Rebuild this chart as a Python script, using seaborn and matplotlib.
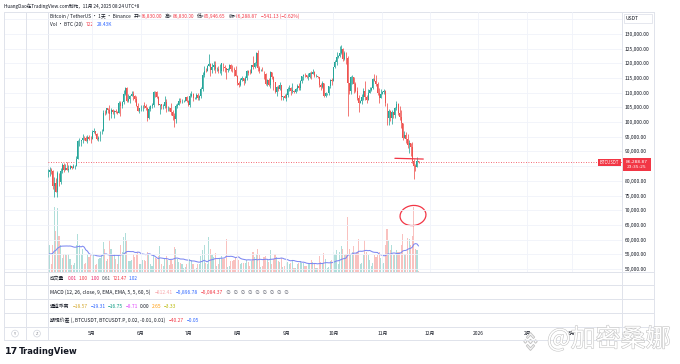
import numpy as np
import pandas as pd
import matplotlib
matplotlib.use("Agg")
import matplotlib.pyplot as plt
import matplotlib.dates as mdates
import matplotlib.patheffects as pe
from matplotlib.patches import Rectangle, Ellipse, Polygon, Circle
import seaborn as sns

# ---------------- data (prices in thousand USDT, volumes in thousand BTC) ----------------
first_day = "2025-04-02"
last_day = "2025-11-24"
first_open_k = 85.17

close_k = [
    # Apr 2-30
    82.5, 83.1, 83.8, 83.5, 78.4, 79.2, 76.3, 82.6, 79.6, 83.4, 85.3, 83.7, 84.5, 83.6, 84.0,
    84.9, 84.4, 85.0, 85.2, 87.5, 93.4, 93.7, 93.9, 94.7, 94.6, 93.7, 95.0, 94.3, 94.2,
    # May
    96.5, 96.9, 95.9, 94.3, 94.7, 96.8, 97.0, 103.2, 102.9, 104.6, 104.1, 102.8, 104.1, 103.5,
    103.7, 103.5, 103.1, 106.4, 105.6, 106.8, 109.6, 111.7, 107.3, 107.8, 109.0, 109.4, 108.9,
    107.8, 105.6, 103.9, 104.6,
    # Jun
    105.7, 105.8, 105.4, 104.7, 101.5, 104.3, 105.6, 105.7, 110.3, 110.2, 108.6, 105.9, 106.1,
    105.4, 105.6, 106.8, 104.6, 104.9, 104.6, 103.3, 102.1, 100.9, 105.4, 105.9, 107.3, 106.9,
    107.1, 107.3, 108.4, 107.1,
    # Jul
    105.7, 108.8, 109.6, 108.0, 108.2, 109.2, 108.3, 108.9, 111.3, 115.9, 117.5, 117.4, 119.1,
    119.8, 117.7, 118.8, 119.3, 117.9, 117.9, 117.3, 117.4, 119.9, 118.8, 118.3, 117.6, 117.9,
    119.4, 118.1, 117.9, 117.8, 115.8,
    # Aug
    113.3, 112.6, 114.2, 115.1, 114.1, 115.0, 117.5, 116.7, 116.5, 119.3, 118.7, 120.1, 123.3,
    118.4, 117.4, 117.5, 117.4, 116.2, 112.9, 114.3, 112.5, 116.9, 115.4, 113.5, 110.1, 111.8,
    111.3, 112.6, 108.4, 108.8, 108.2,
    # Sep
    109.2, 111.2, 111.7, 110.7, 110.7, 110.2, 111.1, 112.1, 111.5, 113.9, 115.5, 116.0, 115.9,
    115.3, 115.3, 116.8, 116.4, 117.1, 115.7, 115.7, 115.3, 112.7, 112.0, 113.3, 109.0, 109.7,
    109.7, 112.1, 114.4, 114.0,
    # Oct
    118.6, 120.5, 122.2, 122.4, 123.5, 124.7, 121.4, 123.3, 121.7, 113.2, 110.6, 115.2, 115.3,
    113.0, 110.7, 108.2, 106.4, 107.2, 108.6, 110.5, 108.4, 107.6, 110.0, 111.0, 111.6, 114.5,
    114.1, 112.9, 110.0, 108.3, 109.6,
    # Nov 1-24
    110.1, 110.6, 106.5, 101.5, 103.9, 101.3, 103.3, 102.3, 104.7, 106.0, 103.0, 101.6, 99.7,
    94.6, 95.5, 94.2, 92.2, 92.9, 91.5, 86.6, 85.1, 84.7, 86.83, 86.28887,
]

high_k = [
    88.5, 83.9, 84.7, 84.2, 83.8, 81.2, 80.8, 83.5, 82.7, 84.3, 85.9, 86.1, 85.8, 86.4, 85.5,
    85.4, 85.0, 85.6, 85.3, 88.5, 93.9, 94.7, 94.0, 95.8, 95.3, 95.2, 95.6, 95.5, 95.1,
    97.4, 97.9, 96.9, 96.3, 95.2, 96.9, 97.7, 104.1, 104.0, 104.9, 104.9, 105.8, 104.9, 104.3,
    104.2, 104.5, 103.7, 107.1, 107.1, 107.3, 110.8, 111.98, 111.8, 109.5, 109.3, 110.4, 110.7,
    109.3, 108.9, 106.3, 104.9,
    105.9, 105.9, 106.8, 106.0, 105.0, 105.3, 105.9, 106.5, 110.5, 110.4, 110.4, 108.8, 106.2,
    106.2, 106.0, 108.9, 107.8, 105.5, 105.2, 106.5, 104.0, 103.1, 106.1, 106.3, 108.1, 108.0,
    107.8, 107.6, 108.5, 108.8,
    107.6, 109.8, 110.6, 109.8, 108.4, 109.7, 109.7, 109.2, 111.99, 116.9, 118.9, 118.2, 119.5,
    123.2, 119.9, 120.1, 120.8, 120.9, 118.6, 118.9, 119.7, 120.2, 120.0, 119.5, 118.4, 118.3,
    119.8, 119.8, 119.3, 118.8, 118.9,
    116.1, 114.0, 114.8, 115.7, 115.1, 115.7, 117.6, 117.7, 117.9, 119.3, 122.3, 120.3, 123.7,
    124.5, 119.2, 117.9, 118.6, 117.5, 116.8, 114.6, 114.8, 117.4, 117.0, 115.7, 113.6, 112.4,
    112.6, 113.5, 112.7, 108.9, 109.5,
    109.9, 111.8, 112.6, 111.8, 113.4, 111.0, 111.4, 112.8, 113.2, 114.3, 115.6, 116.3, 116.7,
    116.1, 116.8, 116.9, 117.3, 118.0, 117.4, 116.3, 115.8, 115.4, 113.3, 113.9, 113.4, 110.3,
    109.8, 112.4, 114.5, 114.8,
    118.6, 121.0, 123.9, 122.9, 125.7, 126.2, 125.1, 124.2, 123.8, 122.5, 113.3, 115.8, 116.0,
    115.4, 113.6, 111.8, 109.2, 107.5, 109.4, 111.7, 114.0, 109.1, 111.3, 112.0, 111.9, 115.0,
    116.4, 116.1, 113.6, 111.6, 111.2,
    110.5, 111.2, 110.8, 106.6, 104.5, 104.2, 104.1, 103.4, 105.0, 107.0, 106.6, 105.3, 104.0,
    99.8, 96.8, 96.6, 96.0, 93.8, 92.9, 93.2, 87.5, 85.6, 88.1, 86.83,
]

low_k = [
    82.3, 81.2, 81.6, 82.4, 77.2, 74.5, 76.2, 74.6, 78.4, 78.9, 82.8, 82.9, 83.7, 83.6, 83.1,
    83.9, 84.0, 84.3, 83.9, 85.0, 87.3, 91.9, 91.7, 92.9, 93.9, 93.5, 92.9, 93.8, 92.9,
    94.1, 96.3, 95.7, 94.0, 93.5, 93.4, 95.8, 96.9, 102.3, 102.8, 103.1, 100.7, 101.4, 102.6,
    101.4, 103.1, 102.6, 103.1, 102.0, 104.9, 106.1, 109.2, 106.8, 106.9, 106.6, 108.7, 107.5,
    106.8, 105.3, 103.6, 103.1,
    103.8, 103.7, 104.9, 104.1, 100.4, 101.1, 103.9, 104.9, 105.1, 108.4, 108.1, 105.7, 102.7,
    104.3, 104.5, 104.9, 103.4, 103.6, 103.9, 102.3, 100.8, 98.2, 99.6, 104.6, 105.8, 106.6,
    106.4, 106.9, 107.2, 106.8,
    105.3, 105.2, 108.6, 107.3, 107.8, 107.8, 107.5, 107.4, 108.3, 110.6, 115.2, 116.9, 117.3,
    118.9, 115.7, 116.5, 117.8, 116.8, 117.3, 116.5, 116.5, 116.1, 117.3, 117.1, 114.7, 117.1,
    117.8, 117.4, 116.9, 115.8, 115.5,
    112.7, 112.0, 112.1, 114.1, 112.7, 113.4, 114.3, 115.9, 116.3, 116.5, 118.1, 118.2, 118.9,
    117.2, 116.8, 117.2, 117.2, 114.7, 112.7, 112.4, 112.4, 111.7, 114.6, 110.9, 109.8, 108.7,
    110.4, 110.8, 107.5, 107.4, 108.1,
    107.3, 108.6, 110.5, 109.3, 109.9, 109.9, 110.0, 110.6, 110.8, 110.9, 113.4, 114.2, 115.3,
    114.8, 114.4, 114.8, 114.7, 116.3, 115.2, 115.4, 115.1, 112.0, 111.0, 111.6, 108.6, 108.6,
    109.1, 109.3, 111.6, 112.7,
    113.9, 118.3, 119.3, 121.6, 122.1, 123.1, 120.6, 121.1, 119.7, 102.0, 109.6, 109.6, 113.0,
    110.0, 110.2, 107.5, 103.5, 106.3, 106.1, 107.5, 107.4, 106.6, 107.4, 109.7, 110.7, 111.3,
    113.9, 112.2, 109.2, 106.3, 108.6,
    109.4, 109.5, 105.3, 98.9, 98.9, 100.3, 99.3, 101.4, 101.3, 104.2, 102.5, 100.8, 98.0,
    94.0, 94.6, 92.9, 91.2, 89.3, 88.6, 86.1, 80.6, 83.5, 84.7, 85.94665,
]

volume_k = [
    30, 28, 30, 9, 30, 72, 45, 70, 40, 30, 15, 20, 20, 18, 20, 14, 7, 7, 10, 30, 42, 30, 20,
    25, 9, 10, 20, 16, 18,
    22, 18, 7, 9, 14, 15, 18, 33, 25, 12, 14, 35, 25, 18, 20, 14, 8, 17, 30, 22, 38, 43, 35,
    12, 12, 13, 20, 16, 20, 22, 9,
    8, 13, 13, 12, 22, 20, 8, 6, 18, 15, 14, 17, 28, 8, 6, 15, 17, 13, 7, 13, 9, 27, 25, 14,
    11, 10, 8, 4, 5, 8,
    10, 14, 13, 9, 3, 4, 8, 8, 17, 24, 30, 10, 9, 38, 25, 18, 16, 21, 6, 8, 15, 17, 14, 14,
    36, 5, 6, 12, 12, 13, 15,
    22, 13, 8, 10, 10, 10, 13, 11, 6, 12, 22, 16, 20, 25, 18, 5, 6, 16, 17, 14, 11, 24, 9,
    14, 20, 16, 12, 11, 15, 5, 6,
    10, 11, 9, 10, 13, 4, 4, 9, 10, 12, 10, 10, 6, 6, 10, 9, 13, 11, 9, 4, 4, 17, 11, 10, 21,
    14, 4, 5, 12, 13,
    22, 20, 24, 8, 22, 28, 25, 18, 20, 60, 25, 20, 22, 28, 20, 22, 36, 8, 10, 18, 35, 22, 18,
    13, 6, 10, 18, 16, 18, 22, 15,
    8, 10, 30, 47, 35, 24, 30, 18, 18, 24, 22, 22, 30, 42, 20, 20, 37, 36, 30, 39, 72, 25, 24,
    0.722,
]
# Mar 14 - Apr 1, only used to warm up the 20-day volume average
volume_before_k = [25, 12, 10, 20, 22, 28, 24, 18, 8, 10, 20, 18, 17, 22, 12, 14, 20, 18, 26]

month_ticks = ["2025-05-01", "2025-06-01", "2025-07-01", "2025-08-01", "2025-09-01",
               "2025-10-01", "2025-11-01", "2025-12-01", "2026-01-01", "2026-02-01", "2026-03-01"]
month_labels = ["5月", "6月", "7月", "8月", "9月", "10月", "11月", "12月", "2026", "2月", "3月"]
price_ticks = list(range(50000, 130001, 5000))
hidden_price_label = 85000  # covered by the last-price tag on the scale

# ---------------- derived series ----------------
dates = pd.date_range(first_day, last_day, freq="D")
close = np.array(close_k) * 1000
open_ = np.concatenate([[first_open_k], close_k[:-1]]) * 1000
high = np.maximum(np.array(high_k) * 1000, np.maximum(open_, close))
low = np.minimum(np.array(low_k) * 1000, np.minimum(open_, close))
vol = np.array(volume_k, dtype=float)
vol_ma = pd.Series(volume_before_k + volume_k, dtype=float).rolling(20).mean().values[len(volume_before_k):]
x = mdates.date2num(dates)
up = close >= open_
last_close = close[-1]

UP, DN = "#26a69a", "#ef5350"
RED, BLUE, DARK, GRID, LINE = "#f23645", "#2962ff", "#131722", "#f0f3fa", "#e0e3eb"

# ---------------- figure ----------------
sns.set_theme(style="white")
plt.rcParams["font.family"] = ["Noto Sans CJK SC", "DejaVu Sans"]
plt.rcParams["axes.unicode_minus"] = False
W, H = 680, 364
fig = plt.figure(figsize=(6.8, 3.64), dpi=100)
fig.patch.set_facecolor("white")


def rect(x0, y0, x1, y1):
    return [x0 / W, 1 - y1 / H, (x1 - x0) / W, (y1 - y0) / H]


apr1 = mdates.date2num(pd.Timestamp("2025-04-01"))
xlim = (apr1 + (47.5 - 44.8) / 1.577, apr1 + (622 - 44.8) / 1.577)
ylim = (49082, 137517)

# left strip (grid only)
axl = fig.add_axes(rect(4.3, 11.7, 47.5, 271.7))
axl.set_ylim(*ylim)
axl.axis("off")
for p in price_ticks + [135000]:
    axl.axhline(p, color=GRID, lw=0.6)

# main pane
ax = fig.add_axes(rect(47.5, 11.7, 622, 271.7))
axv = ax.twinx()
ax.set_zorder(axv.get_zorder() + 1)
ax.patch.set_visible(False)

# volume
axv.bar(x, vol, width=0.7, color=np.where(up, UP, DN), alpha=0.36, linewidth=0)
sns.lineplot(x=x, y=vol_ma, ax=axv, color="#7d88f2", linewidth=0.75, legend=False)
axv.set_ylim(0, 287.6)
axv.set_xlim(*xlim)
axv.axis("off")

# grid
for p in price_ticks + [135000]:
    ax.axhline(p, color=GRID, lw=0.6, zorder=0)
for d in month_ticks:
    ax.axvline(mdates.date2num(pd.Timestamp(d)), color=GRID, lw=0.6, zorder=0)

# candles
cols = np.where(up, UP, DN)
ax.vlines(x, low, high, colors=cols, lw=0.55, zorder=2)
body = np.maximum(np.abs(close - open_), 60)
ax.bar(x, body, bottom=np.minimum(open_, close), width=0.62, color=cols, linewidth=0, zorder=3)

# last price line
ax.axhline(last_close, color=RED, lw=0.6, ls=(0, (1, 2)), zorder=1)

# annotation drawn on the chart
ax.plot([mdates.date2num(pd.Timestamp("2025-11-09")), mdates.date2num(pd.Timestamp("2025-11-27"))],
        [87650, 87400], color=RED, lw=0.9, zorder=4)

ax.set_xlim(*xlim)
ax.set_ylim(*ylim)
ax.set_yticks(price_ticks)
ax.set_yticklabels(["" if p == hidden_price_label else f"{p:,.2f}" for p in price_ticks])
ax.yaxis.tick_right()
ax.tick_params(axis="y", length=0, pad=2.2, labelsize=3.6, labelcolor=DARK)
ax.set_xticks([])
for s in ax.spines.values():
    s.set_visible(False)

# time axis row
axt = fig.add_axes(rect(47.5, 327.3, 622, 340))
axt.set_xlim(*xlim)
axt.axis("off")
for d, lab in zip(month_ticks, month_labels):
    axt.text(mdates.date2num(pd.Timestamp(d)), 0.5, lab, transform=axt.get_xaxis_transform(),
             ha="center", va="center", fontsize=3.5, color=DARK)

# ---------------- overlay in pixel coordinates ----------------
oa = fig.add_axes([0, 0, 1, 1])
oa.set_xlim(0, W)
oa.set_ylim(H, 0)
oa.axis("off")

# frame lines
oa.plot([4.3, 654.3], [11.7, 11.7], color=LINE, lw=0.7)
for yy in [271.7, 285.3, 299.3, 313.3, 327.3, 340]:
    oa.plot([4.3, 654.3], [yy, yy], color=LINE, lw=0.7)
for xx in [4.3, 25.7, 48.0, 622.3, 654.3]:
    oa.plot([xx, xx], [11.7, 340], color=LINE, lw=0.7)

# Y / Z buttons
for cx, lab in [(15, "Y"), (37, "Z")]:
    oa.add_patch(Circle((cx, 333.6), 3.4, facecolor="white", edgecolor="#d1d4dc", lw=0.5))
    oa.text(cx, 333.8, lab, fontsize=2.8, color="#787b86", ha="center", va="center")


def chain(x0, y0, parts, fs):
    t = oa.text(x0, y0, parts[0][0], color=parts[0][1], fontsize=fs, va="center", ha="left")
    for s, c, g in parts[1:]:
        t = oa.annotate(s, xy=(1, 0.5), xycoords=t, xytext=(g, 0), textcoords="offset points",
                        color=c, fontsize=fs, va="center", ha="left")
    return t


oa.text(4, 6, "HuangDao在TradingView.com制作，11月 24, 2025 08:24 UTC+8", fontsize=3.35,
        color=DARK, va="center", ha="left")

chain(50, 16.2, [("Bitcoin / TetherUS · 1天 · Binance", DARK),
                 ("开=", DARK, 2.0), ("86,830.00", RED, 0),
                 ("高=", DARK, 2.0), ("86,830.00", RED, 0),
                 ("低=", DARK, 2.0), ("85,946.65", RED, 0),
                 ("收=", DARK, 2.0), ("86,288.87", RED, 0),
                 ("−541.13 (−0.62%)", RED, 2.0)], 3.45)
chain(50, 24.6, [("Vol · BTC (20)", DARK), ("722", RED, 2.0), ("28.43K", BLUE, 2.0)], 3.45)

chain(50, 278.5, [("成交量", DARK), ("0.01", "#e91e63", 2.5), ("1.00", RED, 1.6), ("1.00", "#e91e63", 1.6),
                  ("0.61", "#434651", 1.6), ("721.47", RED, 1.6), ("1.02", BLUE, 1.6)], 3.4)
chain(50, 292.4, [("MACD (12, 26, close, 9, EMA, EMA, 5, 5, 60, 5)", DARK),
                  ("−812.41", "#f7a8ac", 3), ("−5,896.78", BLUE, 2), ("−5,084.37", RED, 2),
                  ("∅  ∅  ∅  ∅  ∅  ∅  ∅  ∅  ∅", "#787b86", 2.5)], 3.6)
chain(50, 306.4, [("通道乖离", DARK), ("−18.57", "#d4a72c", 2.5), ("−19.31", BLUE, 1.7),
                  ("−16.75", "#089981", 1.7), ("−8.71", "#e040fb", 1.7), ("0.00", DARK, 1.7),
                  ("2.65", "#ff9800", 1.7), ("−3.33", "#b7b700", 1.7)], 3.5)
chain(50, 320.4, [("期现价差 (, BTCUSDT, BTCUSDT.P, 0.02, -0.01, 0.01)", DARK),
                  ("−40.27", RED, 2.5), ("−0.05", BLUE, 2)], 3.5)

# price scale extras
oa.add_patch(Rectangle((623.5, 13.5), 28.5, 9.8, facecolor="white", edgecolor=LINE, lw=0.6))
oa.text(626, 18.5, "USDT", fontsize=3.6, color=DARK, va="center", ha="left")
oa.add_patch(Rectangle((622.3, 158.3), 28.7, 13.0, facecolor=RED, edgecolor="none"))
oa.text(636.6, 164.7, "86,288.87\n23:35:25", fontsize=3.2, color="white", va="center", ha="center",
        linespacing=1.25, family=["DejaVu Sans"])
oa.add_patch(Rectangle((598, 159.3), 22.5, 6.7, facecolor=RED, edgecolor="none"))
oa.text(609.3, 162.7, "BTCUSDT", fontsize=3.1, color="white", va="center", ha="center")

# hand-drawn circle around the volume spike
oa.add_patch(Ellipse((413, 215.5), 26, 20, angle=-8, facecolor="none", edgecolor=RED, lw=0.9))

# watermark
cx, cy, sx, sy = 530.5, 341.5, 8.0, 9.0
wm = dict(facecolor="white", edgecolor="#c4c4c4", lw=0.7)
oa.add_patch(Polygon([(cx, cy - 0.25 * sy), (cx + 0.25 * sx, cy), (cx, cy + 0.25 * sy), (cx - 0.25 * sx, cy)], **wm))
for sgn in (-1, 1):
    dx = sgn * 0.64 * sx
    oa.add_patch(Polygon([(cx + dx, cy - 0.2 * sy), (cx + dx + 0.2 * sx, cy), (cx + dx, cy + 0.2 * sy),
                          (cx + dx - 0.2 * sx, cy)], **wm))
    oa.add_patch(Polygon([(cx, cy + sgn * sy), (cx + 0.52 * sx, cy + sgn * 0.48 * sy),
                          (cx + 0.37 * sx, cy + sgn * 0.33 * sy), (cx, cy + sgn * 0.7 * sy),
                          (cx - 0.37 * sx, cy + sgn * 0.33 * sy), (cx - 0.52 * sx, cy + sgn * 0.48 * sy)], **wm))
oa.text(547, 339.5, "@加密桑娜", fontsize=18, color="white", va="center", ha="left",
        path_effects=[pe.withStroke(linewidth=0.8, foreground="#c4c4c4")])

# TradingView logo
oa.text(5, 352, "17", fontsize=6.8, fontweight="heavy", color=DARK, va="center", ha="left",
        family=["DejaVu Sans"])
oa.text(18.5, 352, "TradingView", fontsize=6.0, fontweight="bold", color=DARK, va="center", ha="left",
        family=["DejaVu Sans"])

fig.savefig("out.png", dpi=100, facecolor="white")
